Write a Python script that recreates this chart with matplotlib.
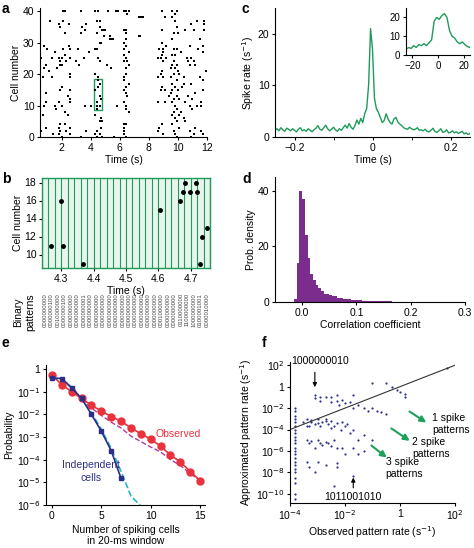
import matplotlib
matplotlib.use("Agg")
import matplotlib.pyplot as plt
import numpy as np

plt.rcParams['font.family'] = ['Liberation Sans', 'DejaVu Sans']
plt.rcParams['font.size'] = 7.5
plt.rcParams['axes.linewidth'] = 0.8
plt.rcParams['xtick.major.size'] = 2.5
plt.rcParams['ytick.major.size'] = 2.5
plt.rcParams['xtick.major.pad'] = 1.5
plt.rcParams['ytick.major.pad'] = 1.5
plt.rcParams['axes.labelpad'] = 1.5

GREEN = '#1f9a5a'
# ---------------- data ----------------
raster = {
40: [2.1,2.2,3.3,4.3,4.5,5.2,5.7,5.9,6.3,6.4,6.6,8.9,9.6,9.9],
39: [6.5,9.8], 38: [7.3,7.4,7.5,7.6,9.1,9.6],
37: [1.2,2.1,4.4,4.6,9.8,11.3,11.8], 36: [1.8,2.5,3.7,10.9,11.8],
35: [1.9,3.4,4.6,9.9], 34: [3.6,4.8,4.9,5.0,6.3,6.4,8.9,10.5,11.1,11.8],
33: [2.2,3.3,4.4,6.4,9.7,10.0], 32: [4.9,5.3,7.3,7.4],
31: [5.3,5.4,5.5,6.4,9.6,11.5], 30: [4.6,4.7,6.3,8.9],
29: [0.8,2.5,6.4,9.2,10.8,11.7],
28: [1.0,2.1,2.6,3.1,4.3,4.4,6.3,8.7,9.0,9.7,9.9,11.4],
27: [1.5,3.9,6.6,9.0,10.2,11.7], 26: [2.2,6.3,8.9,9.6,9.8],
25: [0.6,1.3,1.8,2.0,2.6,3.5,4.5,6.4,8.6,8.8,9.2,10.6,10.9],
24: [1.9,2.3,3.0,4.6,6.3,6.5,9.0,9.7,10.7,11.1],
23: [0.5,0.9,1.9,2.0,3.2,5.1,6.6,9.6,9.9,10.8,11.2],
22: [0.8,1.7,5.4,6.4,9.5,9.8], 21: [1.1,8.9,10.0,11.9],
20: [2.6,4.3,6.4,8.8,9.7,10.1],
19: [0.7,1.3,2.6,4.5,6.3,8.6,9.0,9.5,10.4,11.5],
18: [4.5,6.3,9.9,11.7], 17: [4.6,6.6,9.6,10.4,10.9],
16: [2.0,4.5,6.4,8.9,9.8,10.3],
15: [1.9,2.6,4.3,6.3,8.8,9.1,9.6,10.0,11.7],
14: [0.9,6.4,9.5,11.2], 13: [2.4,4.6,6.5,9.4,9.9,10.7],
12: [2.6,4.7,9.7,10.1,11.0],
11: [0.9,1.8,2.6,4.4,6.3,8.6,9.1,9.6,10.5,11.6],
10: [0.8,1.5,2.0,3.6,4.0,4.4,4.6,5.8,6.4,9.8,10.8,11.3,11.6],
9: [1.6,4.4,6.4,9.9,11.0], 8: [2.2,6.6,9.7,10.2],
7: [0.5,0.7,2.4,4.3,9.6,10.1], 6: [4.7,9.8,10.4], 5: [4.6,4.8,9.9,10.5],
4: [1.9,2.2,6.3,6.4,8.9,9.6], 3: [0.9,1.8,2.6,4.7,6.3,8.7,10.1,11.2],
2: [0.6,1.9,2.3,3.7,4.4,6.3,8.6,9.7,10.8,11.6],
1: [1.4,1.8,2.6,4.3,4.6,6.3,9.0,9.8,11.1,11.7],
0: [2.0,3.3,4.4,4.8,5.6,6.4,9.9,10.9],
}
b_times = [4.268,4.298,4.305,4.368,4.605,4.668,4.675,4.683,4.697,4.718,4.720,4.728,4.735,4.752]
b_cells = [11,16,11,9,15,16,17,18,17,18,17,9,12,13]

c_t = np.round(np.arange(-0.25, 0.2501, 0.005), 3)
c_rate = [1.3,1.6,1.2,1.8,1.4,1.1,1.7,1.5,1.2,1.6,1.3,1.0,1.5,1.8,1.2,1.4,1.1,1.6,1.3,1.0,
          1.4,1.7,2.2,1.5,1.3,1.8,2.3,1.6,1.2,1.5,1.9,1.4,1.1,1.6,1.3,1.8,2.3,1.7,2.6,1.9,
          1.5,2.2,3.3,2.5,3.6,2.8,4.5,5.5,10.0,21.0,17.0,7.5,5.5,4.8,3.8,2.8,3.2,4.5,3.5,2.8,
          2.5,3.5,3.8,2.9,2.5,2.2,1.8,1.6,1.5,1.9,1.6,1.4,1.5,1.8,1.3,1.4,1.2,1.5,1.1,1.0,
          1.3,1.7,1.1,0.9,1.2,1.6,0.9,1.0,1.4,0.8,0.9,1.2,0.8,1.0,0.7,0.9,1.1,0.6,0.8,0.5,0.7]
ins_t = np.arange(-25, 26, 2)
ins_rate = [3,4,3.5,5,4,5.5,5,6,5,6.5,8,18,20,19,21,22,20,13,10,9,7,6,7,5.5,4.5,4]

d_left = np.round(np.arange(-0.015, 0.26, 0.005), 3)
d_height = [1,14,40,37,24,16,10,8,6,5,4,3,3,2.5,2,2,1.5,1.5,1.2,1,1,0.8,0.8,0.7,0.6,
            0.5,0.5,0.4,0.4,0.3,0.3,0.3,0.2,0.2,0.2,0.2,0.15,0.1,0.1,0,0.1,0.1,0,0.1,0,0,0.1,0,0,0,0.1,0,0,0,0.1]

e_n = np.arange(16)
e_obs = [0.55,0.2,0.1,0.05,0.025,0.014,0.008,0.005,0.0025,0.0014,0.0008,0.0004,0.00016,0.00008,0.00003,0.000012]
e_ind_n = np.arange(8)
e_ind = [0.4,0.38,0.15,0.05,0.01,0.0018,0.00025,0.000015]
e_cyan_n = np.arange(10)
e_cyan = [0.4,0.35,0.14,0.05,0.012,0.0022,0.00032,0.00003,0.0000025,0.0000009]
e_mag_n = np.arange(3,16)
e_mag = [0.045,0.019,0.009,0.0045,0.0025,0.0011,0.00063,0.00036,0.00022,0.0001,0.000056,0.000024,0.000012]

f_x = ([1.5e-4]*23 +
       [8e-4,8e-4,1.2e-3,2e-3,3e-3,5e-3,5e-3,8e-3,1e-2,1.5e-2,2e-2,3e-2,5e-2,0.1,0.1,0.15,0.3,0.3,0.5,0.8,1,1.5,1.5,50,3e-3,1.2e-3,6e-3,2e-2,7e-2,0.2] +
       [3e-4,4e-4,5e-4,6e-4,8e-4,1e-3,1.2e-3,1.5e-3,2e-3,2.5e-3,3e-3,4e-3,5e-3,7e-3,1e-2,1.5e-2,2e-2,3e-2,5e-2,0.1,4e-4,6e-4,1e-3,2e-3,3e-3,8e-3,1.2e-2] +
       [4e-4,5e-4,8e-4,1e-3,1.5e-3,2e-3,3e-3,4e-3,5e-3,8e-3,1e-2,2e-2,3e-2,5e-2,6e-4,1.2e-3,2.5e-3] +
       [4e-4,5e-4,8e-4,1e-3,2e-3,5e-3,5e-3,4e-3,2e-2])
f_y = ([1e-2,5e-3,2e-3,1e-3,5e-4,2e-4,1e-4,5e-5,2e-5,1e-5,5e-6,2e-6,1e-6,5e-7,2e-7,1e-7,5e-8,2e-8,1e-8,3e-9,1e-9,1e-10,3e-11] +
       [0.15,0.08,0.1,0.12,0.1,0.15,0.05,0.06,0.03,0.04,0.15,0.02,0.01,2,0.01,0.005,0.003,2,1,0.5,0.3,0.2,0.1,50,0.04,0.05,0.02,0.01,0.005,0.004] +
       [5e-4,1e-3,2e-4,5e-4,3e-4,1e-3,2e-4,5e-4,1e-3,3e-4,6e-4,2e-4,4e-4,1e-4,2e-4,5e-5,1e-4,1e-5,3e-5,1e-5,2e-4,8e-4,4e-4,6e-4,1.5e-4,5e-4,3e-4] +
       [1e-5,5e-6,2e-6,1e-5,4e-6,7e-6,3e-6,1e-5,2e-6,2e-6,5e-7,2e-6,5e-7,1e-6,8e-6,6e-6,5e-6] +
       [1e-7,3e-8,1e-8,1e-7,5e-8,3e-8,8e-8,5e-10,5e-9])

# ---------------- figure ----------------
W, H = 474, 548
fig = plt.figure(figsize=(W/100, H/100), dpi=100)
def ax_px(x0, y0, x1, y1):
    return fig.add_axes([x0/W, 1-y1/H, (x1-x0)/W, (y1-y0)/H])
def clean(ax):
    ax.spines['top'].set_visible(False); ax.spines['right'].set_visible(False)
def label(x, y, s):
    fig.text(x/W, 1-y/H, s, fontsize=10, fontweight='bold', va='top', ha='left')

# a
ax = ax_px(40, 8, 207, 137); clean(ax)
for cell, ts in raster.items():
    ax.plot(ts, [cell]*len(ts), 's', ms=1.8, color='k', mew=0)
ax.add_patch(plt.Rectangle((4.24, 8.5), 0.52, 10, fill=False, ec=GREEN, lw=1))
ax.set_xlim(0.5, 12); ax.set_ylim(0, 41)
ax.set_xticks([2,4,6,8,10,12]); ax.set_yticks([0,10,20,30,40])
ax.set_xlabel('Time (s)'); ax.set_ylabel('Cell number')
label(2, 2, 'a')

# b
ax = ax_px(42, 178, 210, 268)
ax.set_facecolor('#e8f5ec')
for v in np.arange(4.24, 4.761, 0.02):
    ax.axvline(v, color=GREEN, lw=0.8)
ax.plot(b_times, b_cells, 'o', ms=2.5, color='k')
for s in ax.spines.values(): s.set_color(GREEN); s.set_linewidth(1)
ax.set_xlim(4.24, 4.76); ax.set_ylim(8.5, 18.5)
ax.set_xticks([4.3,4.4,4.5,4.6,4.7]); ax.set_yticks([10,12,14,16,18])
ax.set_xlabel('Time (s)'); ax.set_ylabel('Cell number')
label(2, 172, 'b')
edges = np.arange(4.24, 4.761, 0.02)
for i in range(len(edges)-1):
    bits = ['0']*10
    for t, c in zip(b_times, b_cells):
        if edges[i] <= t < edges[i+1]:
            bits[18-c] = '1'
    xc = (edges[i]+edges[i+1])/2
    xp = 42 + (xc-4.24)/0.52*168
    fig.text(xp/W, 1-293/H, ''.join(bits), rotation=90, fontsize=4.3, ha='center', va='top', color='#444')
fig.text(24/W, 1-312/H, 'Binary\npatterns', rotation=90, ha='center', va='center', fontsize=7.5)

# c
ax = ax_px(275, 8, 470, 137); clean(ax)
ax.plot(c_t, c_rate, color=GREEN, lw=1)
ax.set_xlim(-0.25, 0.25); ax.set_ylim(0, 25)
ax.set_xticks([-0.2,0,0.2]); ax.set_xticks([-0.1,0.1], minor=True); ax.set_yticks([0,10,20])
ax.set_xticklabels(['\u22120.2','0','0.2'])
ax.set_xlabel('Time (s)'); ax.set_ylabel('Spike rate (s$^{-1}$)')
label(242, 2, 'c')
axi = ax_px(406, 8, 470, 55); clean(axi)
axi.plot(ins_t, ins_rate, color=GREEN, lw=1)
axi.set_xlim(-25, 25); axi.set_ylim(0, 25)
axi.set_xticks([-20,0,20]); axi.set_yticks([0,10,20])
axi.set_xticklabels(['\u221220','0','20'])
axi.tick_params(labelsize=7)

# d
ax = ax_px(275, 177, 465, 302); clean(ax)
ax.bar(d_left, d_height[:len(d_left)], width=0.005, align='edge', color='#7b2d8e', lw=0)
ax.set_xlim(-0.05, 0.3); ax.set_ylim(0, 45)
ax.set_xticks([0,0.1,0.2,0.3]); ax.set_yticks([0,20,40])
ax.set_xlabel('Correlation coefficient'); ax.set_ylabel('Prob. density')
label(242, 172, 'd')

# e
ax = ax_px(46, 365, 205, 505); clean(ax)
ax.set_yscale('log')
ax.plot(e_mag_n, e_mag, '--', color='#b03aa0', lw=1)
ax.plot(e_cyan_n, e_cyan, '--', color='#2ab6c8', lw=1.2)
ax.plot(e_n, e_obs, '-o', color='#e8323c', ms=5, lw=1.2)
ax.plot(e_ind_n, e_ind, '-s', color='#2b2f86', ms=2.5, lw=1.2)
ax.set_xlim(-0.6, 15.5); ax.set_ylim(1e-6, 1.5)
ax.set_xticks([0,5,10,15])
ax.set_yticks([1,1e-1,1e-2,1e-3,1e-4,1e-5,1e-6])
ax.set_yticklabels(['1','10$^{-1}$','10$^{-2}$','10$^{-3}$','10$^{-4}$','10$^{-5}$','10$^{-6}$'])
ax.minorticks_off()
ax.set_xlabel('Number of spiking cells\nin 20-ms window', labelpad=3)
ax.set_ylabel('Probability')
ax.text(10.5, 1e-3, 'Observed', color='#e8323c')
ax.text(4, 1.2e-5, 'Independent\ncells', color='#2b2f86', ha='center', linespacing=1.3)
label(2, 336, 'e')

# f
ax = ax_px(290, 362, 455, 503)
ax.set_xscale('log'); ax.set_yscale('log')
ax.scatter(f_x, f_y, s=2.5, color='#2b2f86', lw=0)
ax.plot([1e-4, 1e2], [1e-4, 1e2], color='#333', lw=0.8)
ax.set_xlim(1e-4, 1e2); ax.set_ylim(1.4e-11, 2e2)
ax.spines['right'].set_visible(False); ax.spines['top'].set_visible(False)
ax.set_xticks([1e-4,1e-2,1,1e2]); ax.set_xticklabels(['10$^{-4}$','10$^{-2}$','1','10$^{2}$'])
ax.set_yticks([1e2,1,1e-2,1e-4,1e-6,1e-8,1e-10])
ax.set_yticklabels(['10$^{2}$','1','10$^{-2}$','10$^{-4}$','10$^{-6}$','10$^{-8}$','10$^{-10}$'])
ax.minorticks_off()
ax.set_xlabel('Observed pattern rate (s$^{-1}$)'); ax.set_ylabel('Approximated pattern rate (s$^{-1}$)')
ax.annotate('', xy=(8e-4, 0.5), xytext=(8e-4, 40), arrowprops=dict(arrowstyle='-|>', color='k', lw=0.8, mutation_scale=6))
ax.text(1.2e-3, 80, '1000000010', ha='center', va='bottom', fontsize=7.5)
ax.annotate('', xy=(2e-2, 6e-9), xytext=(2e-2, 2e-10), arrowprops=dict(arrowstyle='-|>', color='k', lw=0.8, mutation_scale=6))
ax.text(2e-2, 1.5e-10, '1011001010', ha='center', va='top', fontsize=7.5)
for (x0, y0, x1, y1, tx, ty, s) in [(0.71, 0.66, 0.84, 0.56, 0.86, 0.56, '1 spike\npatterns'),
                                      (0.60, 0.54, 0.74, 0.43, 0.74, 0.39, '2 spike\npatterns'),
                                      (0.48, 0.42, 0.60, 0.31, 0.58, 0.25, '3 spike\npatterns')]:
    ax.annotate('', xy=(x1, y1), xytext=(x0, y0), xycoords='axes fraction',
                arrowprops=dict(arrowstyle='-|>', color='#1fa05a', lw=1.5, mutation_scale=9))
    ax.text(tx, ty, s, transform=ax.transAxes, ha='left', va='center', fontsize=7.5, clip_on=False)
label(262, 336, 'f')

fig.savefig('out.png', dpi=100)
